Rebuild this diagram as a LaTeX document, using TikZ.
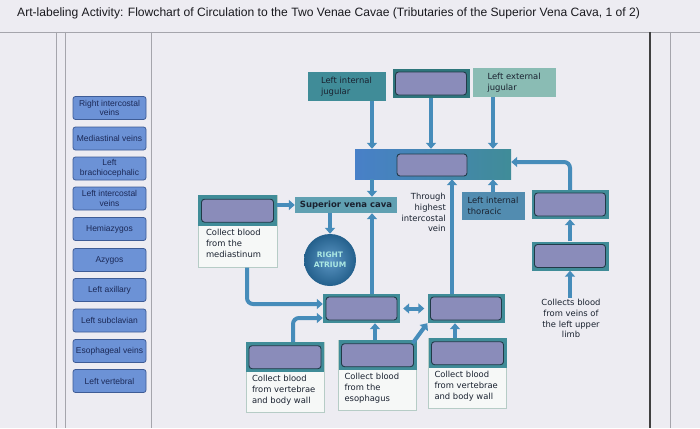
\documentclass[tikz,border=0pt]{standalone}
\usepackage{fontspec}
\setmainfont{Liberation Sans}
\newfontfamily\dvsans{DejaVu Sans}
\usetikzlibrary{arrows.meta,positioning}

\begin{document}
\begin{tikzpicture}[x=1pt,y=-1pt,
  lbl/.style={draw=lbldraw,fill=lblfill,line width=.8pt,rounded corners=2.5pt,
    minimum width=73pt,minimum height=23pt,inner sep=1pt,align=center,
    font=\fontsize{8.5}{9.5}\selectfont,text=lbltext},
  blk/.style={fill=tealc,minimum width=77pt,minimum height=29pt,inner sep=3pt},
  slot/.style={draw=slotdraw,line width=.9pt,fill=slotfill,rounded corners=3pt,
    minimum width=71pt,minimum height=23pt,inner sep=0pt},
  frm/.style={draw=frmdraw,fill=frmfill,line width=.6pt,minimum width=78pt,
    minimum height=70pt,anchor=north,inner sep=0pt},
  hdr/.style={blk,anchor=north,minimum height=30pt},
  txt/.style={font=\dvsans\fontsize{8.4}{10.8}\selectfont,text=txtc,inner sep=1pt},
  arr/.style={draw=arrc,line width=4pt,-{Triangle[width=10pt,length=6pt]}},
]
 \definecolor{bgc}{RGB}{237,236,242}
 \definecolor{linec}{RGB}{165,165,172}
 \definecolor{titc}{RGB}{25,25,30}
 \definecolor{lblfill}{RGB}{108,146,214}
 \definecolor{lbldraw}{RGB}{62,92,150}
 \definecolor{lbltext}{RGB}{28,42,88}
 \definecolor{tealc}{RGB}{64,140,152}
 \definecolor{tealdk}{RGB}{46,118,124}
 \definecolor{teallt}{RGB}{138,188,180}
 \definecolor{bluec}{RGB}{72,128,200}
 \definecolor{svcc}{RGB}{96,160,178}
 \definecolor{litc}{RGB}{82,140,176}
 \definecolor{slotfill}{RGB}{138,140,186}
 \definecolor{slotdraw}{RGB}{34,58,72}
 \definecolor{frmfill}{RGB}{246,248,247}
 \definecolor{frmdraw}{RGB}{182,204,198}
 \definecolor{txtc}{RGB}{26,34,48}
 \definecolor{arrc}{RGB}{70,140,186}
 \definecolor{rain}{RGB}{92,150,196}
 \definecolor{raout}{RGB}{36,96,140}
 \definecolor{ratxt}{RGB}{172,232,226}

 % page and screen frame
 \fill[bgc] (0,0) rectangle (700,428);
 \useasboundingbox (0,0) rectangle (700,428);
 \node[anchor=west,inner sep=0pt,font=\fontsize{12.1}{14}\selectfont,text=titc] (title) at (17,13)
   {Art-labeling Activity: Flowchart of Circulation to the Two Venae Cavae (Tributaries of the Superior Vena Cava, 1 of 2)};
 \draw[linec,line width=.8pt] (0,32) -- (700,32);
 \foreach \xp in {56,65,151,670}
   \draw[linec,line width=.6pt] (\xp,32) -- (\xp,428);
 \draw[black!75,line width=1.6pt] (650,32) -- (650,428);

 % labels to drag
 \foreach \nm/\yp/\txt in {
   ric/108/{Right intercostal\\veins}, mdv/138.5/Mediastinal veins,
   lbr/168.5/{Left\\brachiocephalic}, lic/198.5/{Left intercostal\\veins},
   hmz/229/Hemiazygos, azy/260/Azygos, lax/290/Left axillary,
   lsc/320.5/Left subclavian, esv/351/Esophageal veins, lvt/381/Left vertebral} {
   \node[lbl] (\nm) at (109.5,\yp) {\txt};
 }

 % top row
 \node[blk,txt,minimum width=78pt,minimum height=29pt,text width=52pt,align=left] (lij) at (347,86.5) {Left internal\\jugular};
 \node[blk,fill=teallt,txt,minimum width=83pt,minimum height=29pt,text width=54pt,align=left] (lej) at (514.5,82.5) {Left external\\jugular};

 % boxes with a blank
 \foreach \nm/\xp/\yp/\col in {
   topm/431/83.5/tealdk, az/361.5/308.5/tealc, hz/466/308.5/tealc,
   ls1/570/204.5/tealc, ls2/570/256/tealc} {
   \node[blk,fill=\col] (\nm) at (\xp,\yp) {};
   \node[slot] (\nm-s) at (\nm) {};
 }

 \node[blk,minimum width=156pt,minimum height=30pt,left color=bluec,right color=tealc] (lbc) at (433,164) {};
 \node[slot,minimum width=70pt,minimum height=22pt] (lbc-s) at (432,165) {};

 \node[blk,fill=svcc,minimum width=102pt,minimum height=16pt,inner sep=1pt,
   font=\dvsans\bfseries\fontsize{8.5}{9}\selectfont,text=txtc] (svc) at (346,205) {Superior vena cava};

 \node[frm,minimum width=79pt,minimum height=72pt] (med) at (237.5,195) {};
 \node[hdr,minimum width=79pt,minimum height=31pt] (med-h) at (med.north) {};
 \node[slot,minimum width=72pt] (med-s) at (med-h) {};
 \node[txt,anchor=north west,align=left] (med-t) at ([shift={(7pt,-2pt)}]med-h.south west) {Collect blood\\from the\\mediastinum};

 \node[circle,minimum size=52pt,inner sep=0pt,inner color=rain,outer color=raout,align=center,
   font=\dvsans\bfseries\fontsize{7.5}{9.5}\selectfont,text=ratxt] (ra) at (330,260) {RIGHT\\ATRIUM};

 \node[txt,anchor=north east,align=right] (thru) at (447,192) {Through\\highest\\intercostal\\vein};
 \node[blk,fill=litc,txt,minimum width=63pt,minimum height=28pt,text width=52pt,align=left] (lit) at (493.5,206) {Left internal\\thoracic};

 \node[txt,anchor=north,align=center] (limb) at (571,298) {Collects blood\\from veins of\\the left upper\\limb};

 % bottom row
 \foreach \nm/\xp/\yp/\txt in {
   vbl/285/342/{Collect blood\\from vertebrae\\and body wall},
   eso/377.5/340/{Collect blood\\from the\\esophagus},
   vbr/467.5/338/{Collect blood\\from vertebrae\\and body wall}} {
   \node[frm] (\nm) at (\xp,\yp) {};
   \node[hdr,minimum width=78pt] (\nm-h) at (\nm.north) {};
   \node[slot,minimum width=72pt] (\nm-s) at (\nm-h) {};
   \node[txt,anchor=north west,align=left] (\nm-t) at ([shift={(5pt,-2pt)}]\nm-h.south west) {\txt};
 }

 % columns and rows for the arrows
 \coordinate (c1) at (372,0);
 \coordinate (c3) at (493,0);
 \coordinate (c5) at (452,0);
 \coordinate (c7) at (247,0);
 \coordinate (c8) at (293,0);
 \coordinate (c9) at (375,0);
 \coordinate (c10) at (455,0);
 \coordinate (r1) at (0,162);
 \coordinate (r2) at (0,304);
 \coordinate (r3) at (0,318);

 \draw[arr] (lij.south -| c1) -- (lbc.north -| c1);
 \draw[arr] (topm.south) -- (topm.south |- lbc.north);
 \draw[arr] (lej.south -| c3) -- (lbc.north -| c3);
 \draw[arr] (lbc.south -| c1) -- (svc.north -| c1);
 \draw[arr] (med.east |- svc) -- (svc.west);
 \draw[arr] (svc.south -| ra) -- (ra.north);
 \draw[arr] (az.north -| c1) -- (svc.south -| c1);
 \draw[arr] (hz.north -| c5) -- (lbc.south -| c5);
 \draw[arr] (lit.north -| c3) -- (lbc.south -| c3);
 \draw[arr,rounded corners=6pt] (ls1.north) |- (lbc.east |- r1);
 \draw[arr] (ls2.north) -- (ls1.south);
 \draw[arr] (limb.north -| ls2) -- (ls2.south);
 \draw[arr,rounded corners=6pt] (med.south -| c7) |- (az.west |- r2);
 \draw[arr,rounded corners=6pt] (vbl.north -| c8) |- (az.west |- r3);
 \draw[arr] (eso.north -| c9) -- (az.south -| c9);
 \draw[arr] ([shift={(-4pt,-3pt)}]eso.north east) -- (hz.south west);
 \draw[arr] (vbr.north -| c10) -- (hz.south -| c10);
 \draw[arr,{Triangle[width=10pt,length=6pt]}-{Triangle[width=10pt,length=6pt]},
   shorten >=3pt,shorten <=3pt] (az.east) -- (hz.west);
\end{tikzpicture}
\end{document}
